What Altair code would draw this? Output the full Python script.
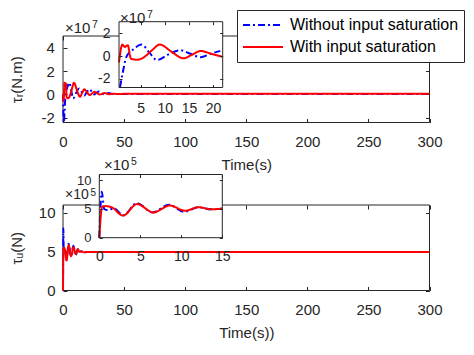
import altair as alt
import pandas as pd

FONT = "Liberation Sans, Arial, DejaVu Sans"
AX = "#262626"
S_WO = "Without input saturation"
S_W = "With input saturation"

# ---- tau_r (x10^7) ----
top_blue_t = [0, 0.7, 1.3, 2.0, 3.5, 5.2, 6.8, 8.35, 10.8, 13.2, 15.3, 17.4, 19.5, 21.5,
              23.5, 25.5, 27.5, 29.5, 31.5, 33.5, 35.5, 37.5, 39.5, 41.5, 45, 50, 300]
top_blue_v = [0.0, -2.8, -1.4, -0.1, 0.6, 1.0, 0.3, -0.35, 0.15, 0.5, 0.2, -0.1, 0.2, 0.45,
              0.25, 0.0, 0.15, 0.25, 0.12, 0.02, 0.08, 0.12, 0.06, 0.02, 0.04, 0.03, 0.03]
top_red_t = [0, 0.5, 1.2, 1.7, 2.3, 3.0, 4.3, 5.5, 7.2, 9.0, 11.3, 13.85, 15.6, 17.4, 19.6,
             21.9, 23.8, 25.8, 28, 30, 32, 34, 36, 38, 40, 45, 50, 300]
top_red_v = [0.0, -0.55, 1.0, 0.8, 0.95, -0.25, -0.32, -0.15, 0.45, 1.0, 0.4, -0.2, 0.1, 0.44,
             0.2, -0.06, 0.08, 0.22, 0.1, 0.0, 0.05, 0.12, 0.06, 0.02, 0.06, 0.04, 0.05, 0.05]

# ---- tau_u (x10^5) ----
bot_blue_t = [0, 0.3, 0.6, 1.0, 1.8, 2.9, 4.6, 6.5, 8.5, 10.3, 12.1, 13.6, 15, 17, 20, 300]
bot_blue_v = [0.0, 8.0, 5.0, 4.8, 5.1, 3.9, 6.0, 4.4, 5.75, 4.5, 5.3, 4.95, 5.05, 4.92, 4.95, 4.95]
bot_red_t = [0, 0.35, 0.8, 1.5, 2.9, 4.6, 6.6, 8.6, 10.45, 12.1, 13.6, 15, 17, 20, 300]
bot_red_v = [0.0, 5.4, 5.5, 5.3, 3.85, 5.86, 4.4, 5.6, 4.7, 5.3, 4.95, 5.05, 4.92, 4.95, 4.95]

# ---- axis limits and ticks ----
time_ticks = [0, 50, 100, 150, 200, 250, 300]
top_lim_x, top_lim_y = [0, 300], [-2.4, 5]
top_yticks = [-2, 0, 2, 4]
ti_lim_x, ti_lim_y = [0.5, 22], [-2.75, 3]
ti_xticks, ti_yticks = [5, 10, 15, 20], [-2, 0, 2]
bot_lim_x, bot_lim_y = [0, 300], [0, 11]
bot_yticks = [0, 5, 10]
bi_lim_x, bi_lim_y = [0, 15], [0, 11]
bi_xticks, bi_yticks = [0, 5, 10, 15], [0, 5, 10]


def frame(t, v, name):
    return pd.DataFrame({"t": t, "v": v, "series": name})


top_blue = frame(top_blue_t, top_blue_v, S_WO)
top_red = frame(top_red_t, top_red_v, S_W)
bot_blue = frame(bot_blue_t, bot_blue_v, S_WO)
bot_red = frame(bot_red_t, bot_red_v, S_W)

cscale = alt.Scale(domain=[S_WO, S_W], range=["#0000ff", "#ff0000"])
dscale = alt.Scale(domain=[S_WO, S_W], range=[[7, 3, 2, 3], [1, 0]])
leg = alt.Legend(orient="none", legendX=229, legendY=2, title=None, fillColor="white",
                 strokeColor=AX, padding=5, labelFontSize=16, labelFont=FONT,
                 labelColor="black", symbolType="stroke", symbolSize=1600,
                 symbolStrokeWidth=2, clipHeight=20, rowPadding=2, labelOffset=6,
                 labelLimit=400)


def sc(dom, rng):
    return alt.Scale(domain=dom, range=rng, nice=False, zero=False, clamp=True)


def ax(orient, offset, values, tick=4, pad=0, labels=True, z=0, size=15, **kw):
    return alt.Axis(orient=orient, offset=offset, values=values, tickSize=tick,
                    labelPadding=pad, labels=labels, domain=False, grid=False,
                    zindex=z, labelFlush=False, labelOverlap=False, tickColor=AX,
                    tickWidth=1, labelFontSize=size, labelExpr="datum.value + ''", **kw)


def lines(df, xs, ys, xaxis=None, yaxis=None, tlim=None):
    ch = alt.Chart(df).mark_line(interpolate="monotone", strokeWidth=2)
    if tlim is not None:
        ch = ch.transform_filter((alt.datum.t >= tlim[0]) & (alt.datum.t <= tlim[1]))
    return ch.encode(
        x=alt.X("t:Q", scale=xs, axis=xaxis),
        y=alt.Y("v:Q", scale=ys, axis=yaxis),
        color=alt.Color("series:N", scale=cscale, legend=leg),
        strokeDash=alt.StrokeDash("series:N", scale=dscale, legend=leg),
    )


def box(xl, yl, xs, ys, xaxis=None, yaxis=None, fill="white", fop=1.0, sw=1):
    df = pd.DataFrame({"x0": [xl[0]], "x1": [xl[1]], "y0": [yl[0]], "y1": [yl[1]]})
    return alt.Chart(df).mark_rect(fill=fill, fillOpacity=fop, stroke=AX, strokeWidth=sw).encode(
        x=alt.X("x0:Q", scale=xs, axis=xaxis), x2="x1:Q",
        y=alt.Y("y0:Q", scale=ys, axis=yaxis), y2="y1:Q")


def note(txt, x, y, size=15):
    return alt.Chart(pd.DataFrame({"k": [0]})).mark_text(
        align="left", baseline="alphabetic", font=FONT, fontSize=size, color=AX
    ).encode(x=alt.value(x), y=alt.value(y), text=alt.value(txt))


W, H = 458, 339

# scales (pixel ranges place each panel)
xs_tm = sc(top_lim_x, [55, 421.5]); ys_tm = sc(top_lim_y, [114.5, 28])
xs_ti = sc(ti_lim_x, [111, 214.7]); ys_ti = sc(ti_lim_y, [79.5, 13.7])
xs_bm = sc(bot_lim_x, [55, 421.5]); ys_bm = sc(bot_lim_y, [282.5, 197])
xs_bi = sc(bi_lim_x, [91.3, 214.3]); ys_bi = sc(bi_lim_y, [229.7, 166.5])

layers = [
    # ---- top main ----
    box(top_lim_x, top_lim_y, xs_tm, ys_tm,
        xaxis=ax("top", -32, time_ticks, labels=False, title=None),
        yaxis=ax("right", 417.5 - W, top_yticks, labels=False, title=None),
        fop=0.0),
    lines(top_blue, xs_tm, ys_tm,
          xaxis=ax("bottom", 110.5 - H, time_ticks, pad=19.2, labelBaseline="middle",
                   title="Time(s)", titleY=45.5, titleBaseline="middle",
                   titleFontWeight="normal", titleFontSize=15),
          yaxis=ax("left", -59, top_yticks, pad=8.7, title="τᵣ(N.m)", titleX=-50.5,
                   titleBaseline="middle", titleFontWeight="normal", titleFontSize=15)),
    lines(top_red, xs_tm, ys_tm),
    # ---- top inset ----
    box(ti_lim_x, ti_lim_y, xs_ti, ys_ti,
        xaxis=ax("bottom", 76.5 - H, ti_xticks, tick=3, pad=20.5, z=1, size=14,
                 labelBaseline="middle", title=None),
        yaxis=ax("left", -114, ti_yticks, tick=3, pad=9, z=1, size=14, title=None),
        sw=0),
    lines(top_blue, xs_ti, ys_ti, tlim=ti_lim_x),
    lines(top_red, xs_ti, ys_ti, tlim=ti_lim_x),
    box(ti_lim_x, ti_lim_y, xs_ti, ys_ti,
        xaxis=ax("top", -16.7, ti_xticks, tick=3, labels=False, z=1, title=None),
        yaxis=ax("right", 211.7 - W, ti_yticks, tick=3, labels=False, z=1, title=None),
        fop=0.0),
    note("×10", 57, 25), note("7", 84, 19.5, 10.5),
    note("×10", 112, 14.5), note("7", 139, 10, 10.5),
    # ---- bottom main ----
    box(bot_lim_x, bot_lim_y, xs_bm, ys_bm,
        xaxis=ax("top", -201, time_ticks, labels=False, title=None),
        yaxis=ax("right", 417.5 - W, bot_yticks, labels=False, title=None),
        fop=0.0),
    lines(bot_blue, xs_bm, ys_bm,
          xaxis=ax("bottom", 278.5 - H, time_ticks, pad=18.5, labelBaseline="middle",
                   title="Time(s))", titleY=45.5, titleBaseline="middle",
                   titleFontWeight="normal", titleFontSize=15),
          yaxis=ax("left", -59, bot_yticks, pad=8, title="τᵤ(N)", titleX=-50.5,
                   titleBaseline="middle", titleFontWeight="normal", titleFontSize=15)),
    lines(bot_red, xs_bm, ys_bm),
    note("×10", 57, 191.2, 14), note("5", 82.5, 188, 10),
    # ---- bottom inset ----
    box(bi_lim_x, bi_lim_y, xs_bi, ys_bi,
        xaxis=ax("bottom", 226.7 - H, bi_xticks, tick=3, pad=19, z=1, size=14,
                 labelBaseline="middle", title=None),
        yaxis=ax("left", -94.3, bi_yticks, tick=3, pad=8.3, z=1, size=13, title=None),
        sw=0),
    lines(bot_blue, xs_bi, ys_bi, tlim=bi_lim_x),
    lines(bot_red, xs_bi, ys_bi, tlim=bi_lim_x),
    box(bi_lim_x, bi_lim_y, xs_bi, ys_bi,
        xaxis=ax("top", -169.5, bi_xticks, tick=3, labels=False, z=1, title=None),
        yaxis=ax("right", 211.3 - W, bi_yticks, tick=3, labels=False, z=1, title=None),
        fop=0.0),
    note("×10", 96, 162), note("5", 123, 157, 10.5),
]

chart = (
    alt.layer(*layers)
    .resolve_scale(x="independent", y="independent")
    .properties(width=W, height=H, autosize=alt.AutoSizeParams(type="none"), padding=0,
                background="white")
    .configure_view(stroke=None)
    .configure_axis(labelFont=FONT, titleFont=FONT, labelColor=AX, titleColor=AX)
)

chart.save("out.html", embed_options={"renderer": "svg", "actions": False})
